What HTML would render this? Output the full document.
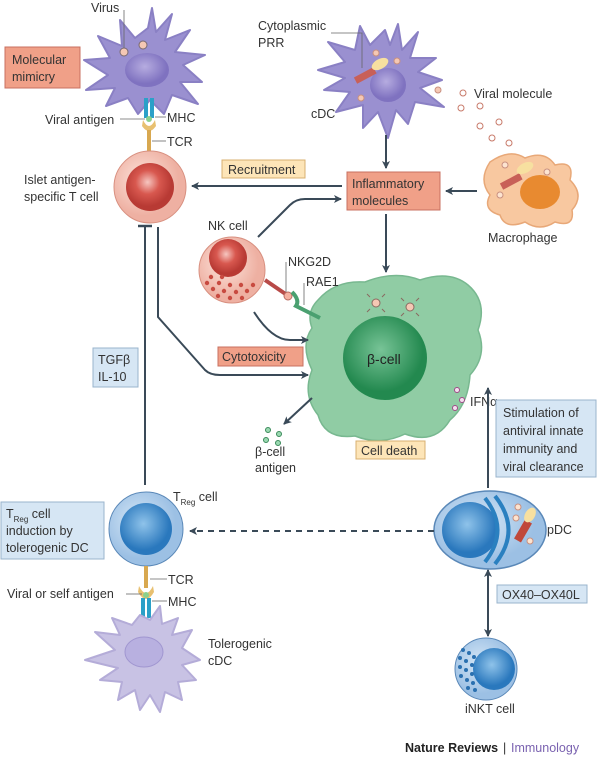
<!DOCTYPE html>
<html><head><meta charset="utf-8"><style>
html,body{margin:0;padding:0;background:#fff}
svg{display:block}
text{font-family:"Liberation Sans",sans-serif;font-size:12.5px;fill:#333}
</style></head><body>
<svg width="600" height="758" viewBox="0 0 600 758" xmlns="http://www.w3.org/2000/svg">
<defs>
<marker id="ah" markerWidth="8" markerHeight="8" refX="7" refY="4" orient="auto" markerUnits="userSpaceOnUse"><path d="M0,0 L8,4 L0,8 L2,4 z" fill="#3a4a58"/></marker>
<marker id="ahs" markerWidth="8" markerHeight="8" refX="1" refY="4" orient="auto" markerUnits="userSpaceOnUse"><path d="M8,0 L0,4 L8,8 L6,4 z" fill="#3a4a58"/></marker>
<radialGradient id="pk" cx="40%" cy="40%"><stop offset="0" stop-color="#fde4dc"/><stop offset="1" stop-color="#eeb0a2"/></radialGradient>
<radialGradient id="rd" cx="45%" cy="40%"><stop offset="0" stop-color="#f6c6c0"/><stop offset="0.5" stop-color="#d8584f"/><stop offset="1" stop-color="#b83a34"/></radialGradient>
<radialGradient id="bl" cx="40%" cy="40%"><stop offset="0" stop-color="#d6e7f6"/><stop offset="1" stop-color="#9cc0e4"/></radialGradient>
<radialGradient id="bd" cx="45%" cy="40%"><stop offset="0" stop-color="#8fc3ea"/><stop offset="1" stop-color="#2a78bd"/></radialGradient>
<radialGradient id="gn" cx="45%" cy="40%"><stop offset="0" stop-color="#78c497"/><stop offset="1" stop-color="#23894f"/></radialGradient>
<radialGradient id="pn" cx="45%" cy="40%"><stop offset="0" stop-color="#b6ace0"/><stop offset="1" stop-color="#7f72c0"/></radialGradient>
</defs>

<!-- Top DC -->
<path d="M148,28 L152,8 L156,32 L172,14 L165,40 L190,30 L175,52 L205,55 L183,65 L202,82 L180,82 L198,104 L172,95 L164,114 L150,100 L138,114 L128,98 L106,106 L115,88 L86,90 L108,75 L84,60 L110,58 L98,36 L122,46 L120,20 L135,38 Z" fill="#9a90d0" stroke="#8a80c4" stroke-width="2" stroke-linejoin="round"/>
<ellipse cx="147" cy="70" rx="22" ry="17" fill="url(#pn)"/>
<circle cx="124" cy="52" r="4" fill="#f5c8b4" stroke="#7a6a70"/><circle cx="143" cy="45" r="4" fill="#f5c8b4" stroke="#7a6a70"/>
<line x1="124" y1="10" x2="124" y2="48" stroke="#666" stroke-width="0.8"/>
<text x="91" y="12">Virus</text>
<rect x="5" y="47" width="75" height="41" fill="#f0a088" stroke="#c87060"/>
<text x="12" y="64">Molecular</text><text x="12" y="81">mimicry</text>
<!-- MHC/TCR top -->
<rect x="144" y="98" width="4" height="20" fill="#2ba0c8"/><rect x="150" y="98" width="4" height="20" fill="#2ba0c8"/>
<circle cx="149" cy="119" r="3" fill="#8cd08c"/>
<path d="M143,120 Q149,132 155,120 L156,126 Q149,136 142,126 Z" fill="#e8c070"/>
<rect x="147" y="130" width="4" height="26" fill="#d8a850"/>
<line x1="120" y1="119" x2="145" y2="119" stroke="#666" stroke-width="0.8"/><text x="45" y="124">Viral antigen</text>
<line x1="155" y1="117" x2="166" y2="117" stroke="#666" stroke-width="0.8"/><text x="167" y="122">MHC</text>
<line x1="152" y1="141" x2="166" y2="141" stroke="#666" stroke-width="0.8"/><text x="167" y="146">TCR</text>
<!-- T cell -->
<circle cx="150" cy="187" r="36" fill="url(#pk)" stroke="#d89080"/>
<circle cx="150" cy="187" r="24" fill="url(#rd)"/>
<text x="24" y="184">Islet antigen-</text><text x="24" y="201">specific T cell</text>

<!-- Cytoplasmic cDC -->
<path d="M385,30 L390,45 L398,24 L402,50 L418,32 L410,58 L436,58 L418,72 L442,80 L420,88 L444,107 L415,102 L408,124 L396,110 L388,138 L378,112 L363,128 L363,105 L336,112 L350,92 L324,90 L345,78 L318,70 L345,62 L328,42 L355,50 L360,26 L370,45 Z" fill="#9a90d0" stroke="#8a80c4" stroke-width="2" stroke-linejoin="round"/>
<ellipse cx="388" cy="85" rx="18" ry="17" fill="url(#pn)"/>
<rect x="354" y="72" width="22" height="7" fill="#c86058" transform="rotate(-28 365 75)"/>
<ellipse cx="380" cy="64" rx="9" ry="5" fill="#f7e0a0" transform="rotate(-28 380 64)"/>
<circle cx="376" cy="53" r="3" fill="#f5c8b4" stroke="#c89080"/><circle cx="397" cy="61" r="3" fill="#f5c8b4" stroke="#c89080"/><circle cx="361" cy="98" r="3" fill="#f5c8b4" stroke="#c89080"/><circle cx="438" cy="90" r="3" fill="#f5c8b4" stroke="#c89080"/>
<polyline points="331,33 362,33 362,68" fill="none" stroke="#666" stroke-width="0.8"/>
<text x="258" y="30">Cytoplasmic</text><text x="258" y="47">PRR</text>
<text x="311" y="118">cDC</text>
<g fill="#fff" stroke="#c87a6a"><circle cx="463" cy="93" r="3"/><circle cx="461" cy="108" r="3"/><circle cx="480" cy="106" r="3"/><circle cx="480" cy="126" r="3"/><circle cx="499" cy="122" r="3"/><circle cx="492" cy="138" r="3"/><circle cx="509" cy="143" r="3"/></g>
<text x="474" y="98">Viral molecule</text>
<!-- Macrophage -->
<path d="M490,162 Q510,148 525,158 Q545,150 555,165 Q575,160 570,180 Q585,195 572,210 Q575,228 555,222 Q540,232 525,222 Q505,230 500,215 Q482,210 490,195 Q478,180 490,162 Z" fill="#f8c8a0" stroke="#e8a878" stroke-width="1.5"/>
<ellipse cx="540" cy="192" rx="20" ry="17" fill="#e88a30"/>
<rect x="500" y="178" width="22" height="7" fill="#c86058" transform="rotate(-28 511 181)"/>
<ellipse cx="525" cy="168" rx="9" ry="5" fill="#f7e0a0" transform="rotate(-28 525 168)"/>
<g fill="#fde4d0" stroke="#c89080"><circle cx="505" cy="165" r="3"/><circle cx="547" cy="172" r="3"/><circle cx="500" cy="195" r="3"/></g>
<text x="488" y="242">Macrophage</text>

<!-- Inflammatory -->
<rect x="347" y="172" width="93" height="38" fill="#f0a088" stroke="#c87060"/>
<text x="352" y="188">Inflammatory</text><text x="352" y="205">molecules</text>
<line x1="386" y1="135" x2="386" y2="168" stroke="#3a4a58" stroke-width="2" marker-end="url(#ah)"/>
<line x1="477" y1="191" x2="446" y2="191" stroke="#3a4a58" stroke-width="2" marker-end="url(#ah)"/>
<line x1="342" y1="186" x2="192" y2="186" stroke="#3a4a58" stroke-width="2" marker-end="url(#ah)"/>
<rect x="222" y="160" width="83" height="18" fill="#fde5b8" stroke="#d8b070"/>
<text x="228" y="174">Recruitment</text>
<line x1="386" y1="214" x2="386" y2="272" stroke="#3a4a58" stroke-width="2" marker-end="url(#ah)"/>
<path d="M258,237 L290,205 Q296,199 305,199 L341,199" fill="none" stroke="#3a4a58" stroke-width="2" marker-end="url(#ah)"/>

<!-- beta cell -->
<path d="M318,300 Q335,280 365,282 Q395,270 420,280 Q450,270 468,285 Q488,302 478,330 Q488,355 470,375 Q468,405 450,420 Q435,445 405,434 Q380,446 355,436 Q325,440 318,415 Q302,395 312,370 Q300,345 312,328 Q306,312 318,300 Z" fill="#90cca4" stroke="#78b890" stroke-width="1.5"/>
<circle cx="385" cy="358" r="42" fill="url(#gn)"/>
<text x="367" y="364" style="font-size:14px;fill:#222">β-cell</text>
<g stroke="#8a6a60" stroke-width="1"><circle cx="376" cy="303" r="4" fill="#f5c8b4"/><circle cx="410" cy="307" r="4" fill="#f5c8b4"/>
<path d="M370,297l-3,-3M382,297l3,-3M370,309l-3,3M382,309l3,3M404,301l-3,-3M416,301l3,-3M404,313l-3,3M416,313l3,3" /></g>

<!-- NK cell -->
<circle cx="232" cy="270" r="33" fill="url(#pk)" stroke="#d89080"/>
<circle cx="228" cy="258" r="19" fill="url(#rd)"/>
<g fill="#c84a40">
<circle cx="207" cy="283" r="2.2"/><circle cx="213" cy="289" r="2.2"/><circle cx="219" cy="283" r="2.2"/><circle cx="224" cy="291" r="2.2"/><circle cx="230" cy="285" r="2.2"/><circle cx="236" cy="292" r="2.2"/><circle cx="241" cy="285" r="2.2"/><circle cx="247" cy="291" r="2.2"/><circle cx="253" cy="285" r="2.2"/><circle cx="218" cy="296" r="2.2"/><circle cx="230" cy="298" r="2.2"/><circle cx="242" cy="298" r="2.2"/><circle cx="211" cy="277" r="2.2"/><circle cx="222" cy="277" r="2.2"/>
</g>
<line x1="265" y1="280" x2="287" y2="295" stroke="#b84a48" stroke-width="4"/>
<circle cx="288" cy="296" r="4" fill="#f5b0a0" stroke="#b86a60"/>
<path d="M292,292 Q300,300 296,306 L320,318" fill="none" stroke="#4aa070" stroke-width="4"/>
<line x1="286" y1="262" x2="286" y2="292" stroke="#666" stroke-width="0.8"/>
<line x1="304" y1="283" x2="304" y2="305" stroke="#666" stroke-width="0.8"/>
<text x="288" y="266">NKG2D</text><text x="306" y="286">RAE1</text>
<text x="208" y="230">NK cell</text>

<!-- NK & T cell arrows into beta -->
<path d="M254,312 Q272,340 290,340 L308,340" fill="none" stroke="#3a4a58" stroke-width="2" marker-end="url(#ah)"/>
<path d="M158,227 L158,317 L205,370 Q210,375 220,375 L308,375" fill="none" stroke="#3a4a58" stroke-width="2" marker-end="url(#ah)"/>
<rect x="218" y="347" width="85" height="19" fill="#f0a088" stroke="#c87060"/>
<text x="222" y="361">Cytotoxicity</text>
<line x1="145" y1="485" x2="145" y2="227" stroke="#3a4a58" stroke-width="2"/>
<line x1="138" y1="226" x2="152" y2="226" stroke="#3a4a58" stroke-width="2.5"/>
<rect x="93" y="348" width="45" height="39" fill="#d6e6f4" stroke="#9ab4cc"/>
<text x="98" y="364">TGFβ</text><text x="98" y="381">IL-10</text>

<line x1="312" y1="398" x2="284" y2="424" stroke="#3a4a58" stroke-width="2" marker-end="url(#ah)"/>
<g fill="#9ad8b0" stroke="#3a8a5a"><circle cx="268" cy="430" r="2.5"/><circle cx="279" cy="434" r="2.5"/><circle cx="266" cy="440" r="2.5"/><circle cx="278" cy="443" r="2.5"/></g>
<text x="255" y="456">β-cell</text><text x="255" y="472">antigen</text>
<rect x="356" y="441" width="69" height="18" fill="#fde5b8" stroke="#d8b070"/>
<text x="361" y="455">Cell death</text>

<!-- IFN -->
<g fill="#f4e0f0" stroke="#a04a88"><circle cx="457" cy="390" r="2.5"/><circle cx="462" cy="400" r="2.5"/><circle cx="455" cy="408" r="2.5"/></g>
<text x="470" y="406">IFNα</text>
<line x1="488" y1="488" x2="488" y2="388" stroke="#3a4a58" stroke-width="2" marker-end="url(#ah)"/>
<rect x="496" y="400" width="100" height="77" fill="#d6e6f4" stroke="#9ab4cc"/>
<text x="503" y="417">Stimulation of</text><text x="503" y="435">antiviral innate</text><text x="503" y="453">immunity and</text><text x="503" y="471">viral clearance</text>

<!-- pDC -->
<ellipse cx="490" cy="530" rx="56" ry="39" fill="url(#bl)" stroke="#5a88b8" stroke-width="1.5"/>
<circle cx="470" cy="530" r="28" fill="url(#bd)"/>
<path d="M485,498 Q510,530 485,562" fill="none" stroke="#2a80c0" stroke-width="4"/>
<path d="M495,496 Q522,530 495,564" fill="none" stroke="#2a80c0" stroke-width="4"/>
<rect x="512" y="527" width="22" height="8" fill="#c0483a" transform="rotate(-60 523 531)"/>
<ellipse cx="530" cy="515" rx="5" ry="8" fill="#f7e0a0" transform="rotate(30 530 515)"/>
<g fill="#fde4d0" stroke="#c89080"><circle cx="518" cy="507" r="3"/><circle cx="516" cy="518" r="3"/><circle cx="530" cy="541" r="3"/></g>
<text x="547" y="534">pDC</text>
<line x1="434" y1="531" x2="190" y2="531" stroke="#3a4a58" stroke-width="2" stroke-dasharray="6,5" marker-end="url(#ah)"/>
<line x1="488" y1="570" x2="488" y2="636" stroke="#3a4a58" stroke-width="2" marker-end="url(#ah)" marker-start="url(#ahs)"/>
<rect x="497" y="585" width="90" height="18" fill="#d6e6f4" stroke="#9ab4cc"/>
<text x="502" y="599">OX40–OX40L</text>
<!-- iNKT -->
<circle cx="486" cy="669" r="31" fill="url(#bl)" stroke="#5a88b8"/>
<circle cx="494" cy="669" r="21" fill="url(#bd)"/>
<g fill="#2a70b0"><circle cx="463" cy="650" r="2"/><circle cx="469" cy="653" r="2"/><circle cx="474" cy="657" r="2"/><circle cx="460" cy="658" r="2"/><circle cx="466" cy="661" r="2"/><circle cx="472" cy="665" r="2"/><circle cx="460" cy="667" r="2"/><circle cx="466" cy="670" r="2"/><circle cx="472" cy="674" r="2"/><circle cx="461" cy="676" r="2"/><circle cx="467" cy="680" r="2"/><circle cx="473" cy="683" r="2"/><circle cx="468" cy="688" r="2"/><circle cx="475" cy="690" r="2"/></g>
<text x="465" y="713">iNKT cell</text>

<!-- Treg -->
<circle cx="146" cy="529" r="37" fill="url(#bl)" stroke="#5a88b8"/>
<circle cx="146" cy="529" r="26" fill="url(#bd)"/>
<text x="173" y="501">T<tspan dy="4" style="font-size:8px">Reg</tspan><tspan dy="-4"> cell</tspan></text>
<rect x="1" y="502" width="103" height="57" fill="#d6e6f4" stroke="#9ab4cc"/>
<text x="6" y="518">T<tspan dy="4" style="font-size:8px">Reg</tspan><tspan dy="-4"> cell</tspan></text>
<text x="6" y="535">induction by</text><text x="6" y="552">tolerogenic DC</text>
<rect x="144" y="566" width="4" height="22" fill="#d8a850"/>
<path d="M139,586 Q146,600 153,586 L154,592 Q146,606 138,592 Z" fill="#e8c070"/>
<circle cx="146" cy="595" r="3" fill="#8cd08c"/>
<rect x="141" y="598" width="4" height="20" fill="#2ba0c8"/><rect x="147" y="598" width="4" height="20" fill="#2ba0c8"/>
<line x1="150" y1="579" x2="167" y2="579" stroke="#666" stroke-width="0.8"/><text x="168" y="584">TCR</text>
<line x1="152" y1="601" x2="167" y2="601" stroke="#666" stroke-width="0.8"/><text x="168" y="606">MHC</text>
<line x1="126" y1="594" x2="142" y2="594" stroke="#666" stroke-width="0.8"/><text x="7" y="598">Viral or self antigen</text>
<!-- tolerogenic DC -->
<path d="M140,615 L150,620 L160,606 L162,624 L178,618 L172,635 L192,630 L182,648 L200,660 L182,665 L196,680 L178,682 L182,700 L165,692 L160,712 L150,695 L140,710 L135,690 L118,700 L122,682 L100,680 L118,668 L85,660 L115,650 L95,632 L120,635 L112,618 L132,625 Z" fill="#c8c2e4" stroke="#b4acd8" stroke-width="2" stroke-linejoin="round"/>
<ellipse cx="144" cy="652" rx="19" ry="15" fill="#b8b0e0" stroke="#a096d0"/>
<text x="208" y="648">Tolerogenic</text><text x="208" y="665">cDC</text>

<text x="405" y="752" style="font-size:12.5px;font-weight:bold;fill:#222">Nature Reviews</text>
<text x="503" y="752" style="font-size:12.5px;fill:#333">|</text>
<text x="511" y="752" style="font-size:12.5px;fill:#7a62b0">Immunology</text>
</svg>
</body></html>
